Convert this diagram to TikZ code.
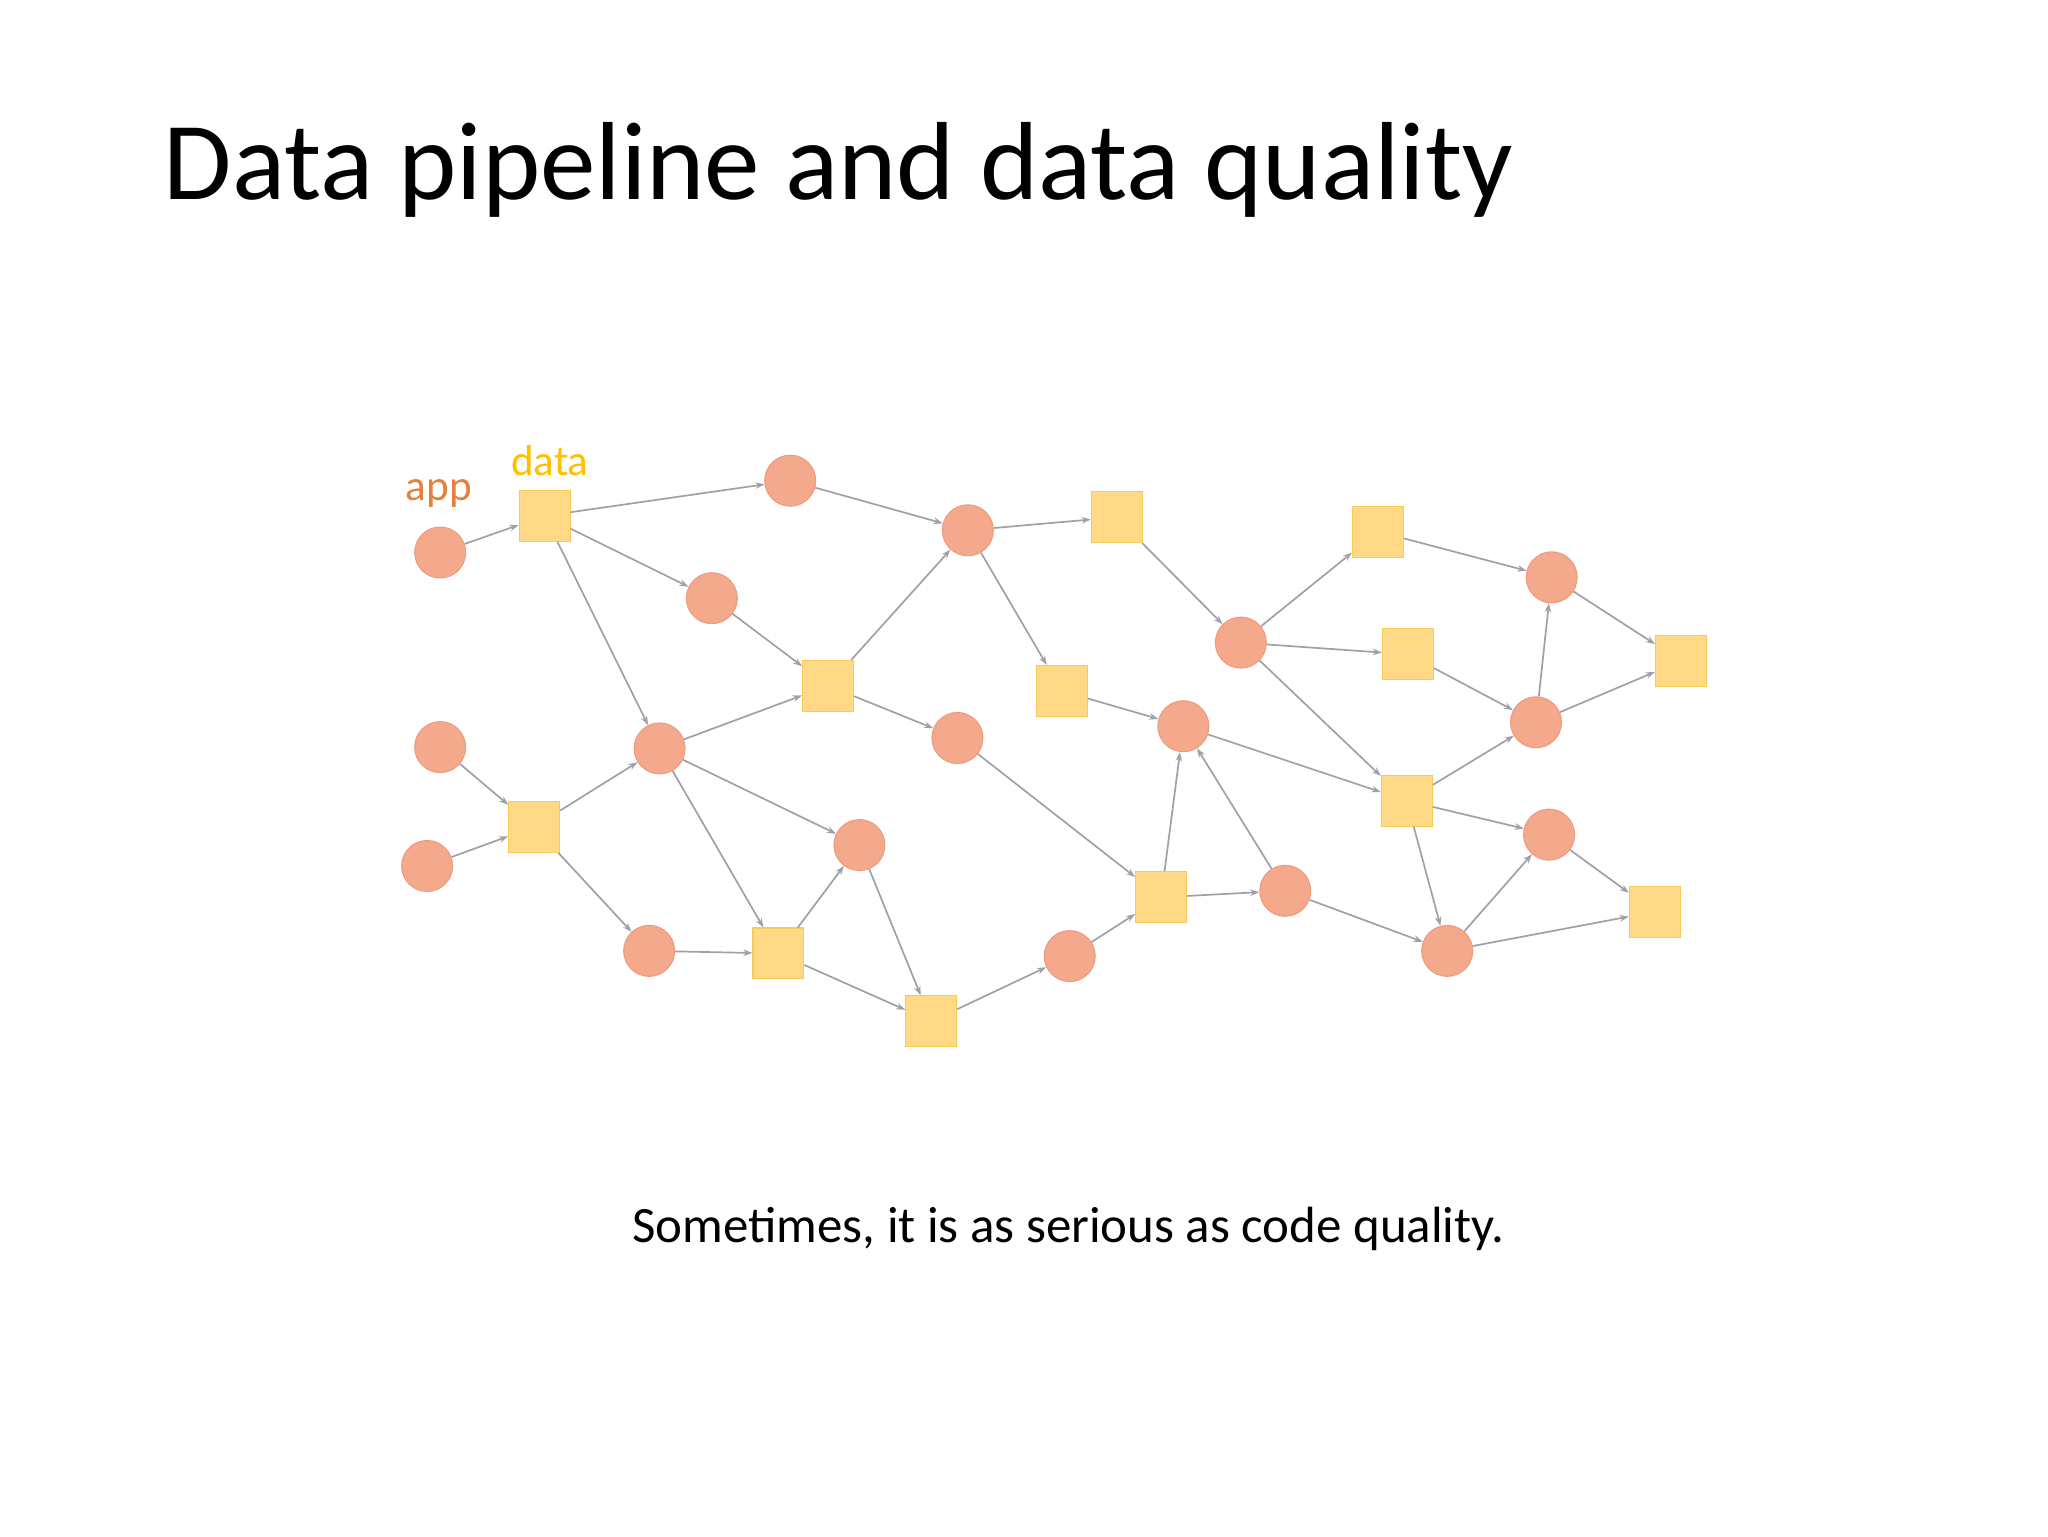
\documentclass[tikz,border=0pt]{standalone}
\usepackage{fontspec}
\setmainfont{Carlito}
\usetikzlibrary{arrows.meta}
\definecolor{cfill}{HTML}{F5A98C}
\definecolor{cdraw}{HTML}{EE9A7C}
\definecolor{sfill}{HTML}{FFD985}
\definecolor{sdraw}{HTML}{F7CB5A}
\definecolor{edge}{HTML}{A0A0A8}
\definecolor{appc}{HTML}{E6803E}
\definecolor{datac}{HTML}{FFC000}
\begin{document}
\begin{tikzpicture}[x=1pt,y=-1pt,
  appnode/.style={circle,minimum size=39pt,inner sep=0pt,fill=cfill,draw=cdraw,line width=0.8pt},
  datanode/.style={rectangle,minimum size=39pt,inner sep=0pt,fill=sfill,draw=sdraw,line width=0.8pt},
  flow/.style={draw=edge,line width=1.3pt,-{Stealth[length=7pt,width=5pt]}}]
\useasboundingbox[fill=white] (0,0) rectangle (1568,1176);
\node[anchor=west,font=\fontsize{85}{90}\selectfont] (title) at (122,130) {Data pipeline and data quality};
\node[text=appc,font=\fontsize{33}{36}\selectfont] (lapp) at (336,378) {app};
\node[text=datac,font=\fontsize{33}{36}\selectfont] (ldata) at (421,353) {data};
\node[font=\fontsize{39}{42}\selectfont] (sub) at (818,941) {Sometimes, it is as serious as code quality.};
\foreach \n/\x/\y in {a1/337/423,a2/337/572,a3/327/663,c1/605/368,c2/545/458,c3/505/573,c4/497/728,c5/741/406,c6/733/565,c7/658/647,c8/819/732,c9/906/556,c10/950/492,c11/984/682,c12/1188/442,c13/1176/553,c14/1186/639,c15/1108/728}
  \node[appnode] (\n) at (\x,\y) {};
\foreach \n/\x/\y in {s1/417/395,s2/409/633,s3/634/525,s4/596/730,s5/713/782,s6/855/396,s7/813/529,s8/889/687,s9/1055/407,s10/1078/501,s11/1077/613,s12/1287/506,s13/1267/698}
  \node[datanode] (\n) at (\x,\y) {};
\foreach \a/\b in {a1/s1,s1/c1,s1/c2,s1/c3,c1/c5,c2/s3,a2/s2,a3/s2,s2/c3,s2/c4,c3/s3,c3/c7,c3/s4,c4/s4,s4/c7,s4/s5,c7/s5,s3/c5,s3/c6,c5/s6,c5/s7,s5/c8,c8/s8,c6/s8,s7/c9,s6/c10,s8/c9,s8/c11,c11/c9,c9/s11,c10/s9,c10/s10,c10/s11,s9/c12,s10/c13,c13/c12,c13/s12,c12/s12,s11/c13,s11/c14,s11/c15,c11/c15,c15/c14,c15/s13,c14/s13}
  \draw[flow] (\a) -- (\b);
\end{tikzpicture}
\end{document}
